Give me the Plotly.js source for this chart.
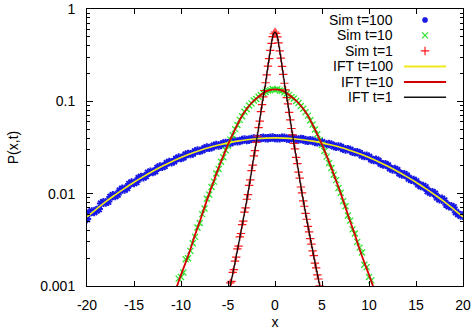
<!DOCTYPE html>
<html>
<head>
<meta charset="utf-8">
<script src="https://cdn.plot.ly/plotly-3.0.1.min.js"></script>
<style>html,body{margin:0;padding:0;background:#fff;}#chart{width:474px;height:330px;}</style>
</head>
<body>
<div id="chart"></div>
<script>
// ---- Simulation data: t=100 (blue asterisks)
var simX100 = [-20,-19.5,-19,-18.5,-18,-17.5,-17,-16.5,-16,-15.5,-15,-14.5,-14,-13.5,-13,-12.5,-12,-11.5,-11,-10.5,-10,-9.5,-9,-8.5,-8,-7.5,-7,-6.5,-6,-5.5,-5,-4.5,-4,-3.5,-3,-2.5,-2,-1.5,-1,-0.5,0,
  0.5,1,1.5,2,2.5,3,3.5,4,4.5,5,5.5,6,6.5,7,7.5,8,8.5,9,9.5,10,10.5,11,11.5,12,12.5,13,13.5,14,14.5,15,15.5,16,16.5,17,17.5,18,18.5,19,19.5,20];
var simY100 = [0.0053,0.0064,0.0066,0.0078,0.0080,0.0092,0.0094,0.0108,0.0111,0.0127,0.0130,0.0147,0.0150,0.0168,0.0171,0.0190,0.0195,0.0214,0.0219,0.0238,0.0243,0.0264,0.0268,0.0287,0.0291,0.0309,0.0313,0.0330,0.0333,0.0350,0.0352,0.0367,0.0368,0.0382,0.0381,0.0392,0.0391,0.0400,0.0398,0.0404,0.0400,
  0.0397,0.0403,0.0394,0.0398,0.0385,0.0389,0.0374,0.0375,0.0359,0.0360,0.0342,0.0340,0.0322,0.0320,0.0301,0.0298,0.0280,0.0275,0.0256,0.0250,0.0231,0.0226,0.0207,0.0202,0.0183,0.0179,0.0161,0.0157,0.0141,0.0136,0.0121,0.0117,0.0103,0.0100,0.0087,0.0084,0.0073,0.0071,0.0060,0.0058];
var simX100b = [-19.75,-19.25,-18.75,-18.25,-17.75,-17.25,-16.75,-16.25,-15.75,-15.25,-14.75,-14.25,-13.75,-13.25,-12.75,-12.25,-11.75,-11.25,-10.75,-10.25,-9.75,-9.25,-8.75,-8.25,-7.75,-7.25,-6.75,-6.25,-5.75,-5.25,-4.75,-4.25,-3.75,-3.25,-2.75,-2.25,-1.75,-1.25,-0.75,-0.25,
  0.25,0.75,1.25,1.75,2.25,2.75,3.25,3.75,4.25,4.75,5.25,5.75,6.25,6.75,7.25,7.75,8.25,8.75,9.25,9.75,10.25,10.75,11.25,11.75,12.25,12.75,13.25,13.75,14.25,14.75,15.25,15.75,16.25,16.75,17.25,17.75,18.25,18.75,19.25,19.75];
var simY100b = [0.0062,0.0063,0.0068,0.0081,0.0082,0.0096,0.0098,0.0113,0.0115,0.0132,0.0134,0.0152,0.0155,0.0173,0.0176,0.0197,0.0200,0.0221,0.0224,0.0246,0.0248,0.0270,0.0272,0.0293,0.0296,0.0316,0.0317,0.0336,0.0337,0.0355,0.0354,0.0372,0.0371,0.0386,0.0383,0.0396,0.0392,0.0403,0.0398,0.0406,
  0.0398,0.0405,0.0395,0.0400,0.0388,0.0391,0.0377,0.0379,0.0363,0.0363,0.0346,0.0345,0.0327,0.0325,0.0307,0.0304,0.0284,0.0282,0.0261,0.0257,0.0236,0.0233,0.0212,0.0208,0.0188,0.0185,0.0166,0.0162,0.0146,0.0141,0.0126,0.0121,0.0107,0.0104,0.0091,0.0088,0.0076,0.0073,0.0063,0.0058];

// ---- Simulation data: t=10 (green crosses)
var simX10 = [-11,-10.75,-10.5,-10.25,-10,-9.75,-9.5,-9.25,-9,-8.75,-8.5,-8.25,-8,-7.75,-7.5,-7.25,-7,-6.75,-6.5,-6.25,-6,-5.75,-5.5,-5.25,-5,-4.75,-4.5,-4.25,-4,-3.75,-3.5,-3.25,-3,-2.75,-2.5,-2.25,-2,-1.75,-1.5,-1.25,-1,-0.75,-0.5,-0.25,0,
  0.25,0.5,0.75,1,1.25,1.5,1.75,2,2.25,2.5,2.75,3,3.25,3.5,3.75,4,4.25,4.5,4.75,5,5.25,5.5,5.75,6,6.25,6.5,6.75,7,7.25,7.5,7.75,8,8.25,8.5,8.75,9,9.25,9.5,9.75,10,10.25,10.5,10.75,11];
var simY10 = [0.00078,0.00092,0.00088,0.00120,0.00125,0.00140,0.00195,0.00200,0.00240,0.00290,0.00340,0.00430,0.00480,0.00600,0.00690,0.00880,0.0098,0.0118,0.0135,0.0165,0.0185,0.0222,0.0248,0.0295,0.0330,0.0385,0.0430,0.0500,0.0555,0.0630,0.0690,0.0770,0.0820,0.0900,0.0950,0.1020,0.1060,0.1120,0.1170,0.1230,0.1260,0.1310,0.1320,0.1360,0.1340,
  0.1350,0.1310,0.1300,0.1255,0.1215,0.1175,0.1110,0.1075,0.1010,0.0960,0.0890,0.0830,0.0765,0.0700,0.0625,0.0560,0.0495,0.0440,0.0380,0.0338,0.0290,0.0252,0.0215,0.0190,0.0160,0.0140,0.0115,0.0102,0.0083,0.0073,0.0058,0.0051,0.0041,0.0037,0.0030,0.0026,0.0023,0.0017,0.0016,0.00125,0.00115,0.00090,0.00085,0.00072];

// ---- Simulation data: t=1 (red plus signs)
var simX1 = [-5.25,-5.125,-5,-4.875,-4.75,-4.625,-4.5,-4.375,-4.25,-4.125,-4,-3.875,-3.75,-3.625,-3.5,-3.375,-3.25,-3.125,-3,-2.875,-2.75,-2.625,-2.5,-2.375,-2.25,-2.125,-2,-1.875,-1.75,-1.625,-1.5,-1.375,-1.25,-1.125,-1,-0.875,-0.75,-0.625,-0.5,-0.375,-0.25,-0.125,0,
  0.125,0.25,0.375,0.5,0.625,0.75,0.875,1,1.125,1.25,1.375,1.5,1.625,1.75,1.875,2,2.125,2.25,2.375,2.5,2.625,2.75,2.875,3,3.125,3.25,3.375,3.5,3.625,3.75,3.875,4,4.125,4.25,4.375,4.5,4.625,4.75,4.875,5,5.125,5.25];
var simY1 = [0.00062,0.00072,0.00082,0.00086,0.00108,0.00112,0.00140,0.00150,0.00186,0.00205,0.00252,0.00270,0.00340,0.00370,0.00462,0.00505,0.00630,0.00700,0.00870,0.00975,0.01230,0.01410,0.01780,0.02040,0.02560,0.02930,0.03620,0.04200,0.05200,0.06100,0.07750,0.09200,0.11200,0.13100,0.15900,0.19400,0.24100,0.29000,0.35700,0.42500,0.50300,0.54000,0.56400,
  0.54500,0.49900,0.42900,0.35300,0.29400,0.23900,0.19600,0.15700,0.13300,0.11000,0.09400,0.07600,0.06300,0.05080,0.04330,0.03500,0.03050,0.02470,0.02120,0.01710,0.01470,0.01180,0.01020,0.00835,0.00730,0.00610,0.00528,0.00442,0.00386,0.00325,0.00284,0.00240,0.00213,0.00177,0.00157,0.00132,0.00119,0.00100,0.00090,0.00076,0.00069,0.00060];

// ---- IFT curves
var iftX100 = [-20,-19,-18,-17,-16,-15,-14,-13,-12,-11,-10,-9,-8,-7,-6,-5,-4,-3,-2,-1,0,1,2,3,4,5,6,7,8,9,10,11,12,13,14,15,16,17,18,19,20];
var iftY100 = [0.0056,0.0068,0.0082,0.0097,0.0114,0.0133,0.0153,0.0175,0.0198,0.0222,0.0246,0.0271,0.0294,0.0316,0.0336,0.0355,0.0371,0.0384,0.0394,0.0400,0.0402,0.0400,0.0394,0.0384,0.0371,0.0355,0.0336,0.0316,0.0294,0.0271,0.0246,0.0222,0.0198,0.0175,0.0153,0.0133,0.0114,0.0097,0.0082,0.0068,0.0056];

var iftX10 = [-11,-10.5,-10,-9.5,-9,-8.5,-8,-7.5,-7,-6.5,-6,-5.5,-5,-4.5,-4,-3.5,-3,-2.5,-2,-1.5,-1,-0.5,0,0.5,1,1.5,2,2.5,3,3.5,4,4.5,5,5.5,6,6.5,7,7.5,8,8.5,9,9.5,10,10.5,11];
var iftY10 = [0.0007,0.00095,0.00132,0.0018,0.0025,0.0036,0.0050,0.0071,0.0100,0.0138,0.019,0.0255,0.034,0.044,0.056,0.070,0.083,0.096,0.107,0.118,0.127,0.133,0.135,0.133,0.127,0.118,0.107,0.096,0.083,0.070,0.056,0.044,0.034,0.0255,0.019,0.0138,0.0100,0.0071,0.0050,0.0036,0.0025,0.0018,0.00132,0.00095,0.0007];

var iftX1 = [-5.5,-5.25,-5,-4.75,-4.5,-4.25,-4,-3.75,-3.5,-3.25,-3,-2.75,-2.5,-2.25,-2,-1.75,-1.5,-1.375,-1.25,-1.125,-1,-0.875,-0.75,-0.625,-0.5,-0.375,-0.25,-0.125,0,0.125,0.25,0.375,0.5,0.625,0.75,0.875,1,1.125,1.25,1.375,1.5,1.75,2,2.25,2.5,2.75,3,3.25,3.5,3.75,4,4.25,4.5,4.75,5,5.25,5.5];
var iftY1 = [0.00047,0.0006,0.00078,0.00102,0.00135,0.0018,0.00245,0.0033,0.0045,0.0062,0.0085,0.0120,0.0174,0.0251,0.0355,0.0513,0.0767,0.093,0.111,0.132,0.158,0.195,0.240,0.292,0.355,0.427,0.501,0.543,0.562,0.543,0.501,0.427,0.355,0.292,0.240,0.195,0.158,0.132,0.111,0.093,0.0767,0.0513,0.0355,0.0251,0.0174,0.0120,0.0085,0.0062,0.0045,0.0033,0.00245,0.0018,0.00135,0.00102,0.00078,0.0006,0.00047];

// ---- Labels
var legendLabels = ['Sim t=100','Sim t=10','Sim t=1','IFT t=100','IFT t=10','IFT t=1'];
var yTickVals = [0.001,0.01,0.1,1];
var yTickText = ['0.001','0.01','0.1','1'];
var xTickVals = [-20,-15,-10,-5,0,5,10,15,20];
var xTickText = ['-20','-15','-10','-5','0','5','10','15','20'];

// ---- styles
var cBlue = '#1a1ae6', cGreen = '#2ee62e', cRed = '#ff1a1a', cYellow = '#f2ea1a', cLineRed = '#d40000', cBlack = '#111111';
var FONT = 'Liberation Sans, Arial, Helvetica, sans-serif';

var minorY = [];
[0.001,0.01,0.1].forEach(function(d){ for (var k=2;k<=9;k++) minorY.push(d*k); });

var blueMarker = {symbol:'asterisk-open', size:7, color:cBlue, line:{color:cBlue, width:2}};
var traces = [
  {x: simX100, y: simY100, type:'scatter', mode:'markers', marker:blueMarker},
  {x: simX100b, y: simY100b, type:'scatter', mode:'markers', marker:blueMarker},
  {x: simX10, y: simY10, type:'scatter', mode:'markers', marker:{symbol:'x-thin-open', size:6, color:cGreen, line:{color:cGreen, width:1.3}}},
  {x: simX1, y: simY1, type:'scatter', mode:'markers', marker:{symbol:'cross-thin-open', size:6, color:cRed, line:{color:cRed, width:1.2}}},
  {x: iftX100, y: iftY100, type:'scatter', mode:'lines', line:{color:cYellow, width:1.6, shape:'spline'}},
  {x: iftX10, y: iftY10, type:'scatter', mode:'lines', line:{color:cLineRed, width:1.8, shape:'spline'}},
  {x: iftX1, y: iftY1, type:'scatter', mode:'lines', line:{color:cBlack, width:1.3, shape:'spline'}}
];

var legY = [0.9603,0.9045,0.8486,0.7928,0.7369,0.6811];
traces.push(
  {x:[0.899], y:[legY[0]], xaxis:'x2', yaxis:'y2', type:'scatter', mode:'markers', marker:{symbol:'asterisk-open', size:5, color:cBlue, line:{color:cBlue, width:1.5}}},
  {x:[0.899], y:[legY[1]], xaxis:'x2', yaxis:'y2', type:'scatter', mode:'markers', marker:{symbol:'x-thin-open', size:6, color:cGreen, line:{color:cGreen, width:1.2}}},
  {x:[0.899], y:[legY[2]], xaxis:'x2', yaxis:'y2', type:'scatter', mode:'markers', marker:{symbol:'cross-thin-open', size:6, color:cRed, line:{color:cRed, width:1.2}}}
);
var annotations = legendLabels.map(function(t,i){
  return {text:t, xref:'paper', yref:'paper', x:0.8165, y:legY[i], xanchor:'right', yanchor:'middle', showarrow:false, borderpad:0, font:{family:FONT, size:14, color:'#000'}};
});
var lineCols = [cYellow, cLineRed, cBlack];
var shapes = [3,4,5].map(function(i,k){
  return {type:'line', xref:'paper', yref:'paper', x0:0.843, x1:0.955, y0:legY[i], y1:legY[i], line:{color:lineCols[k], width:k==2?1.5:2}};
});

var layout = {
  width:474, height:330,
  margin:{l:87, r:11, t:9, b:44},
  paper_bgcolor:'#fff', plot_bgcolor:'#fff',
  showlegend:false,
  font:{family:FONT, size:14, color:'#000'},
  xaxis:{range:[-20,20], tickvals:xTickVals, ticktext:xTickText, ticks:'inside', ticklen:5, tickcolor:'#000', tickwidth:1,
         showline:true, linecolor:'#000', linewidth:1, mirror:'allticks', showgrid:false, zeroline:false,
         tickfont:{family:FONT, size:14}, ticklabelstandoff:6, ticklabeloverflow:'allow',
         title:{text:'x', font:{family:FONT, size:14}, standoff:9}},
  yaxis:{type:'log', range:[-3.0005,0.0005], tickvals:yTickVals, ticktext:yTickText, ticks:'inside', ticklen:6, tickcolor:'#000', tickwidth:1,
         showline:true, linecolor:'#000', linewidth:1, mirror:'allticks', showgrid:false, zeroline:false,
         minor:{tickvals:minorY, ticks:'inside', ticklen:3, tickcolor:'#000', showgrid:false},
         tickfont:{family:FONT, size:14}, ticklabelstandoff:8, ticklabeloverflow:'allow',
         title:{text:'P(x,t)', font:{family:FONT, size:14}, standoff:18}},
  xaxis2:{overlaying:'x', range:[0,1], visible:false},
  yaxis2:{overlaying:'y', range:[0,1], visible:false},
  annotations:annotations,
  shapes:shapes
};

Plotly.newPlot('chart', traces, layout, {displayModeBar:false, staticPlot:true});
</script>
</body>
</html>
